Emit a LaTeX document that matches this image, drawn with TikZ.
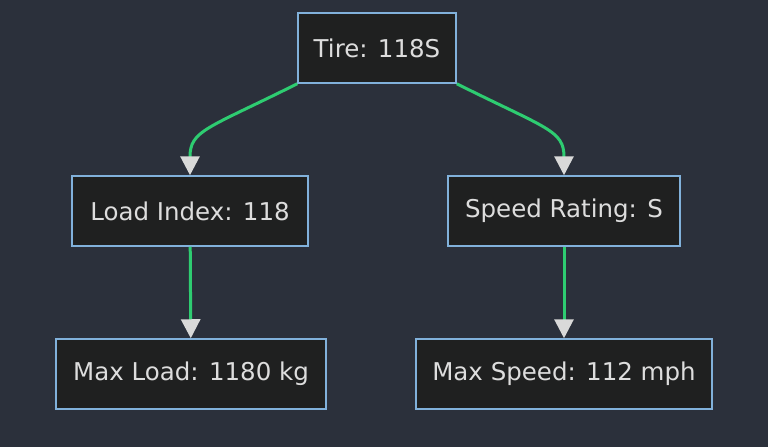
\documentclass[tikz,border=0pt]{standalone}
\usepackage{fontspec}
\setmainfont{DejaVu Sans}
\usetikzlibrary{arrows.meta,positioning}
\definecolor{bgdark}{HTML}{2B303B}
\definecolor{boxfill}{HTML}{1F2020}
\definecolor{boxline}{HTML}{81B1DB}
\definecolor{txtgray}{HTML}{DDDDDD}
\definecolor{edgegreen}{HTML}{2ECC71}
\definecolor{tipgray}{HTML}{D9D9D9}
\tikzset{
  tbox/.style={draw=boxline, fill=boxfill, text=txtgray, line width=1.5pt,
    minimum height=70pt, inner sep=0pt, font=\fontsize{24.5}{28}\selectfont},
  link/.style={draw=edgegreen, line width=3pt,
    -{Triangle[color=tipgray,length=19pt,width=19pt]}}
}
\begin{document}
\begin{tikzpicture}[x=1pt,y=-1pt]
  \fill[bgdark] (0,0) rectangle (768,447);
  \useasboundingbox (0,0) rectangle (768,447);
  \node[tbox, minimum width=158pt] (tire) at (377,48) {Tire: 118S};
  \node[tbox, minimum width=236pt] (load) at (190,211) {Load Index: 118};
  \node[tbox, minimum width=232pt] (speed) at (564,211) {Speed Rating: S};
  \node[tbox, minimum width=270pt] (maxload) at (191,374) {Max Load: 1180 kg};
  \node[tbox, minimum width=296pt] (maxspeed) at (564,374) {Max Speed: 112 mph};
  % edges
  \draw[link] (tire.south west) .. controls +(-90,45) and +(0,-45) .. (load.north);
  \draw[link] (tire.south east) .. controls +(90,45) and +(0,-45) .. (speed.north);
  \draw[link] (load) -- (maxload);
  \draw[link] (speed) -- (maxspeed);
\end{tikzpicture}
\end{document}
